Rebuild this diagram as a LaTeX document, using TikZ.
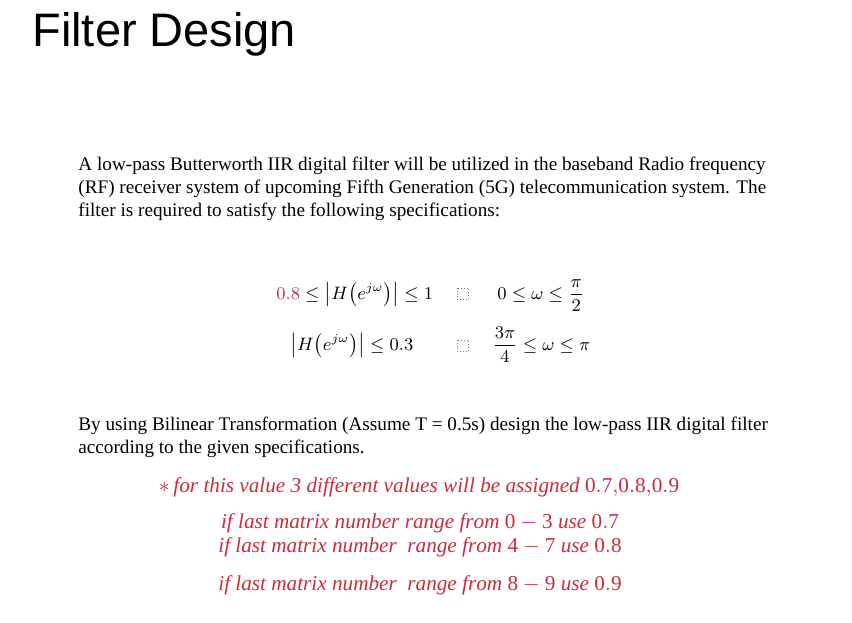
\documentclass[tikz,border=0pt]{standalone}
\usepackage{fontspec}
\setmainfont{Liberation Serif}
\newfontfamily\titlefont{Liberation Sans}
\definecolor{redtxt}{RGB}{200,45,60}
\begin{document}
\begin{tikzpicture}[x=0.5pt,y=-0.5pt,
  body/.style={anchor=base west,inner sep=0pt,font=\fontsize{9.6}{11}\selectfont},
  mathtxt/.style={anchor=base west,inner sep=0pt,font=\fontsize{8.6}{10}\selectfont},
  red/.style={anchor=base,inner sep=0pt,text=redtxt,font=\fontsize{10.6}{12}\selectfont},
  dbox/.style={draw=gray,densely dotted,line width=0.4pt}]
\useasboundingbox (0,0) rectangle (852,622);
\node[anchor=base west,inner sep=0pt,font=\titlefont\fontsize{23.5}{26}\selectfont] (title) at (32,46) {Filter Design};
\node[body] (p1) at (78,170) {A low-pass Butterworth IIR digital filter will be utilized in the baseband Radio frequency};
\node[body] (p2) at (78,193) {(RF) receiver system of upcoming Fifth Generation (5G) telecommunication system. The};
\node[body] (p3) at (78,216) {filter is required to satisfy the following specifications:};
\node[mathtxt] (e1) at (276,299) {$\textcolor{redtxt}{0.8}\le\left|H\!\left(e^{j\omega}\right)\right|\le 1$};
\node[mathtxt] (e2) at (290,350) {$\left|H\!\left(e^{j\omega}\right)\right|\le 0.3$};
\draw[dbox] (457,288) rectangle (468,299);
\draw[dbox] (457,340) rectangle (468,351);
\node[mathtxt] (r1) at (497,299) {$\displaystyle 0\le\omega\le\frac{\pi}{2}$};
\node[mathtxt] (r2) at (492,350) {$\displaystyle \frac{3\pi}{4}\le\omega\le\pi$};
\node[body] (q1) at (78,430) {By using Bilinear Transformation (Assume T = 0.5s) design the low-pass IIR digital filter};
\node[body] (q2) at (78,453) {according to the given specifications.};
\node[red] (n1) at (419,492) {$*\,\mathit{for\ this\ value\ 3\ different\ values\ will\ be\ assigned}\ \mathrm{0.7{,}0.8{,}0.9}$};
\node[red] (n2) at (420,528) {$\mathit{if\ last\ matrix\ number\ range\ from}\ \mathrm{0-3}\ \mathit{use}\ \mathrm{0.7}$};
\node[red] (n3) at (420,552) {$\mathit{if\ last\ matrix\ number\ \ range\ from}\ \mathrm{4-7}\ \mathit{use}\ \mathrm{0.8}$};
\node[red] (n4) at (420,590) {$\mathit{if\ last\ matrix\ number\ \ range\ from}\ \mathrm{8-9}\ \mathit{use}\ \mathrm{0.9}$};
\end{tikzpicture}
\end{document}
